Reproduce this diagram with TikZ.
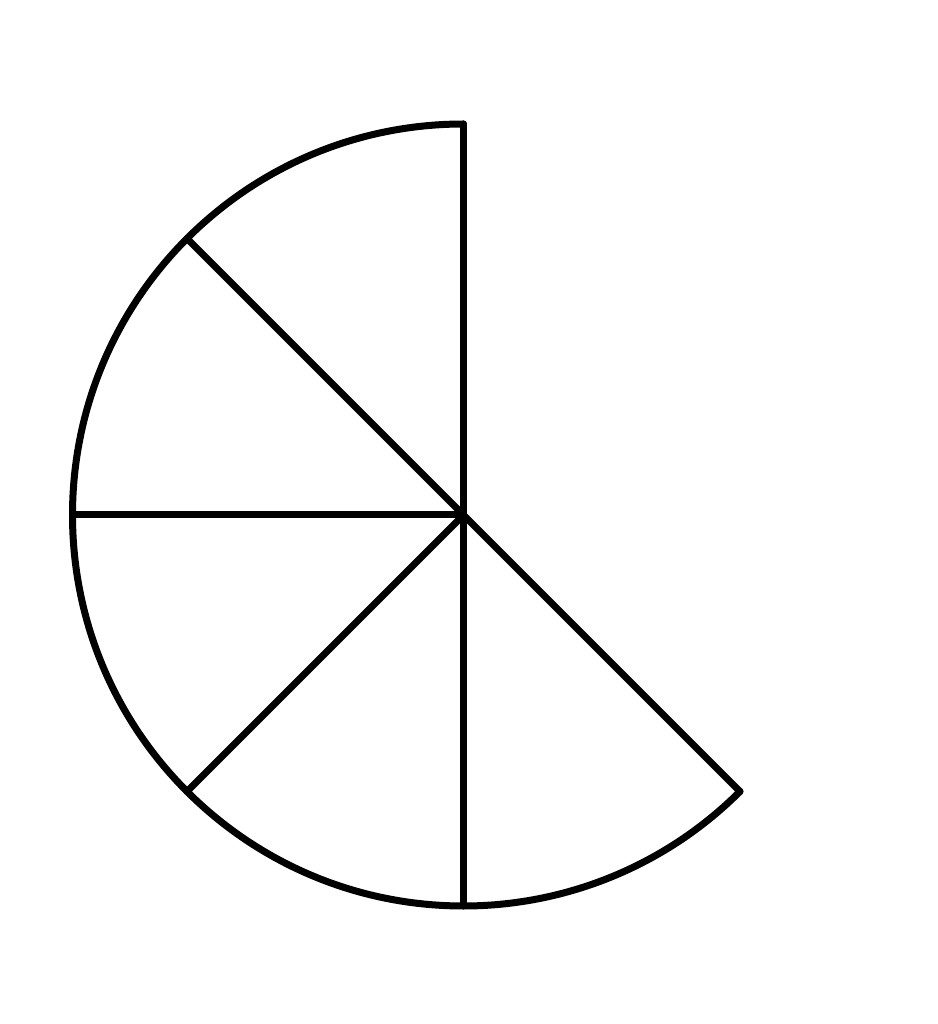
\documentclass[tikz,border=0pt]{standalone}
\usetikzlibrary{positioning}
\begin{document}
\begin{tikzpicture}[line width=0.07cm,line join=round,line cap=round,
    spoke/.style={-,line width=0.07cm}]
  \useasboundingbox (0,0) rectangle (9.37,10.24);
  \begin{scope}[shift={(4.635,5.09)}]
    \coordinate (o) at (0,0);
    \coordinate (p1) at (90:3.91);
    \coordinate (p2) at (135:3.91);
    \coordinate (p3) at (180:3.91);
    \coordinate (p4) at (225:3.91);
    \coordinate (p5) at (270:3.91);
    \coordinate (p6) at (315:3.91);
    %\coordinate (p7) at (0:3.91);
  \end{scope}
  \draw (p1) arc[start angle=90,end angle=315,radius=3.91];
  \path[spoke,draw] (o) edge (p1);
  \path[spoke,draw] (o) edge (p2);
  \path[spoke,draw] (o) edge (p3);
  \path[spoke,draw] (o) edge (p4);
  \path[spoke,draw] (o) edge (p5);
  \path[spoke,draw] (o) edge (p6);
\end{tikzpicture}
\end{document}
